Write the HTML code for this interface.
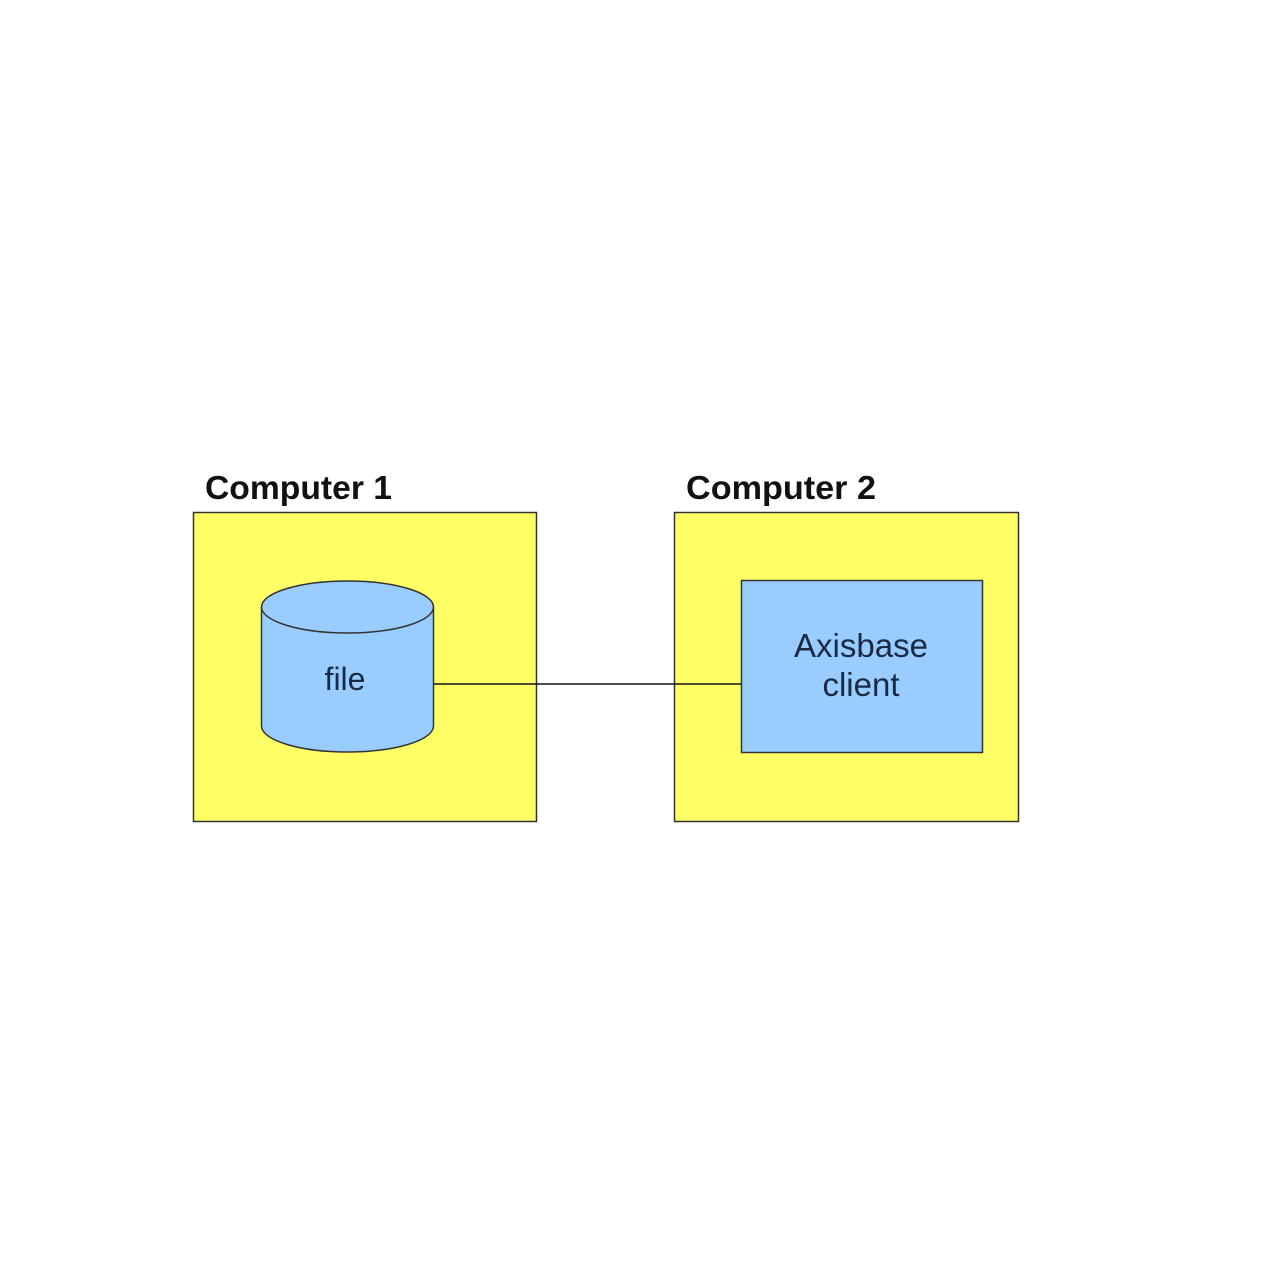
<!DOCTYPE html>
<html><head><meta charset="utf-8"><style>
html,body{margin:0;padding:0;background:#fff;width:1280px;height:1280px;overflow:hidden}
</style></head><body>
<svg width="1280" height="1280" xmlns="http://www.w3.org/2000/svg" font-family="Liberation Sans, sans-serif">
<rect x="193.5" y="512.5" width="343" height="309" fill="#ffff66" stroke="#333" stroke-width="1.5"/>
<rect x="674.5" y="512.5" width="344" height="309" fill="#ffff66" stroke="#333" stroke-width="1.5"/>
<line x1="433" y1="684" x2="741" y2="684" stroke="#111" stroke-width="1.5"/>
<path d="M261.5 607 L261.5 726 A86 26 0 0 0 433.5 726 L433.5 607" fill="#99ccff" stroke="#333" stroke-width="1.5"/>
<ellipse cx="347.5" cy="607" rx="86" ry="26" fill="#99ccff" stroke="#333" stroke-width="1.5"/>
<rect x="741.5" y="580.5" width="241" height="172" fill="#99ccff" stroke="#333" stroke-width="1.5"/>
<text x="205" y="499" font-size="33" font-weight="bold" fill="#111" textLength="187" lengthAdjust="spacingAndGlyphs">Computer 1</text>
<text x="686" y="499" font-size="33" font-weight="bold" fill="#111" textLength="190" lengthAdjust="spacingAndGlyphs">Computer 2</text>
<text x="345" y="690" font-size="32" text-anchor="middle" fill="#1a2a44">file</text>
<text x="861" y="657" font-size="33" text-anchor="middle" fill="#1a2a44">Axisbase</text>
<text x="861" y="696" font-size="33" text-anchor="middle" fill="#1a2a44">client</text>
</svg>
</body></html>
